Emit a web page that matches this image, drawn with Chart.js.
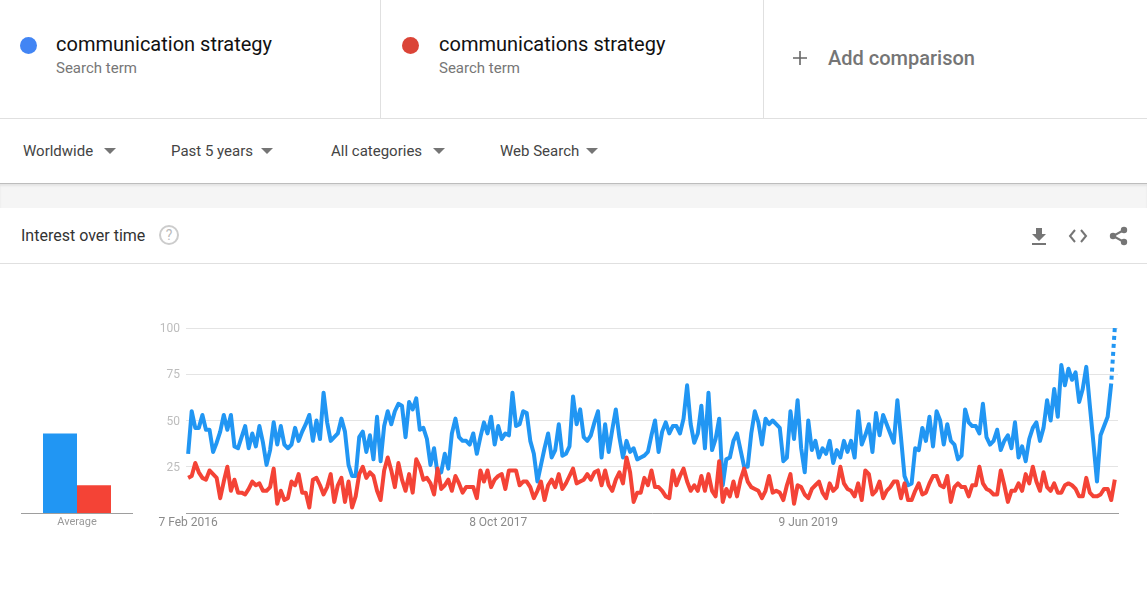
<!DOCTYPE html>
<html>
<head>
<meta charset="utf-8">
<title>Interest over time</title>
<script src="https://cdn.jsdelivr.net/npm/chart.js@4"></script>
<style>
  html, body { margin: 0; padding: 0; background: #fff; }
  body { position: relative; width: 1147px; height: 595px; overflow: hidden; font-family: Roboto, sans-serif; }
  .abs { position: absolute; white-space: nowrap; }
  .term { font-size: 20px; color: #111; line-height: 24px; top: 32px; }
  .sub { font-size: 15px; color: #777; line-height: 18px; top: 59px; }
  .dot { width: 17px; height: 17px; border-radius: 50%; top: 37px; }
  .filter { font-size: 15px; color: #444; line-height: 20px; top: 141px; }
  .arrow { width: 0; height: 0; top: 148px; border-left: 6px solid transparent; border-right: 6px solid transparent; border-top: 6px solid #757575; }
  .hline { left: 0; width: 1147px; height: 1px; background: #e0e0e0; }
  .vline { top: 0; width: 1px; height: 118px; background: #e0e0e0; }
  canvas { position: absolute; }
</style>
</head>
<body>
  <div class="abs dot" style="left:20px;background:#4285f4"></div>
  <div class="abs term" style="left:56px">communication strategy</div>
  <div class="abs sub" style="left:56px">Search term</div>
  <div class="abs vline" style="left:380px"></div>
  <div class="abs dot" style="left:402px;background:#db4437"></div>
  <div class="abs term" style="left:439px">communications strategy</div>
  <div class="abs sub" style="left:439px">Search term</div>
  <div class="abs vline" style="left:763px"></div>
  <svg class="abs" style="left:792px;top:50px" width="16" height="16"><path d="M8 1v14M1 8h14" stroke="#666" stroke-width="1.6" fill="none"/></svg>
  <div class="abs" style="left:828px;top:45px;font-size:20px;font-weight:500;color:#757575;line-height:26px">Add comparison</div>
  <div class="abs hline" style="top:118px"></div>

  <div class="abs filter" style="left:23px">Worldwide</div>
  <div class="abs arrow" style="left:104px"></div>
  <div class="abs filter" style="left:171px">Past 5 years</div>
  <div class="abs arrow" style="left:261px"></div>
  <div class="abs filter" style="left:331px">All categories</div>
  <div class="abs arrow" style="left:433px"></div>
  <div class="abs filter" style="left:500px">Web Search</div>
  <div class="abs arrow" style="left:586px"></div>

  <div class="abs" style="left:0;top:183px;width:1147px;height:25px;background:#f5f5f5;border-top:1px solid #bdbdbd;box-shadow:inset 0 2px 2px #e4e4e4;box-sizing:border-box"></div>

  <div class="abs" style="left:21px;top:226px;font-size:16px;color:#333;line-height:20px">Interest over time</div>
  <div class="abs" style="left:159px;top:225px;width:16px;height:16px;border:2px solid #ccc;border-radius:50%;font-size:14px;line-height:16px;text-align:center;color:#bbb">?</div>
  <svg class="abs" style="left:1030px;top:227px" width="18" height="19"><path d="M6 1h6v6h4l-7 7-7-7h4z M2 16h14v2H2z" fill="#757575"/></svg>
  <svg class="abs" style="left:1068px;top:229px" width="20" height="14"><path d="M7 1L2 7l5 6M13 1l5 6-5 6" stroke="#757575" stroke-width="2" fill="none"/></svg>
  <svg class="abs" style="left:1109px;top:226px" width="20" height="20"><path d="M15 4L4 10l11 6" stroke="#757575" stroke-width="2" fill="none"/><circle cx="15" cy="4" r="3.2" fill="#757575"/><circle cx="4" cy="10" r="3.2" fill="#757575"/><circle cx="15" cy="16" r="3.2" fill="#757575"/></svg>
  <div class="abs hline" style="top:263px"></div>

  <canvas id="avgChart" style="left:21px;top:310px;width:112px;height:230px"></canvas>
  <canvas id="trendChart" style="left:150px;top:310px;width:980px;height:230px"></canvas>

<script>
const termNames = ["communication strategy", "communications strategy"];
const averages = [43, 15];

const blueValues = [
  32,55,46,46,53,45,45,33,38,44,53,45,53,36,35,41,47,35,43,36,
  47,38,26,34,49,37,47,37,35,37,46,39,44,48,53,39,50,40,65,49,
  39,41,43,51,44,26,20,20,41,44,33,42,29,52,28,47,55,48,55,59,
  58,41,60,56,62,45,46,40,26,35,21,22,32,24,43,51,41,39,39,37,
  43,32,41,49,43,52,
  37,47,40,43,42,65,47,48,55,54,
  39,32,17,26,35,43,30,34,48,31,
  32,36,63,48,56,41,39,42,49,55,
  30,48,33,45,56,41,30,39,33,35,
  29,30,31,33,42,50,33,44,49,43,
  47,47,43,51,69,48,38,43,58,35,
  65,34,40,51,15,29,30,39,43,34,
  25,25,43,55,49,37,51,48,50,48,
  46,28,30,55,40,61,35,22,50,34,
  39,30,
  35,32,39,27,34,30,39,33,39,30,
  55,37,42,48,33,54,42,53,48,43,
  38,61,41,20,15,16,35,34,46,39,
  52,36,55,50,37,48,39,37,29,31,
  56,49,47,47,43,59,41,37,39,45,
  34,39,42,35,49,30,36,28,40,46,
  49,39,46,61,50,67,52,80,69,78,
  72,76,60,67,79,58,38,17,42,47,
  52,70,100
];

const redValues = [
  19,20,27,22,19,18,23,21,19,8,17,25,12,18,11,11,10,13,17,15,
  16,12,12,14,24,5,12,7,8,17,15,21,11,11,3,18,19,15,10,14,
  21,6,15,19,6,17,3,9,21,25,19,22,20,12,7,23,30,23,14,27,
  18,12,21,11,29,25,18,19,16,10,24,13,15,18,12,20,16,11,14,14,
  14,8,23,
  17,23,14,18,20,21,13,23,23,23,
  15,17,17,14,8,12,17,7,15,18,
  14,21,13,16,20,24,16,17,18,21,
  18,22,23,15,23,15,12,18,22,16,
  30,22,6,11,11,19,15,23,14,14,
  12,9,8,23,15,20,24,17,12,15,
  12,20,12,21,12,9,28,6,13,9,
  17,9,18,24,17,14,13,12,8,12,
  20,11,12,11,7,15,21,5,15,14,
  10,8,13,15,17,
  11,8,16,12,14,25,16,13,12,9,
  16,7,23,21,10,12,17,8,12,14,
  17,17,8,16,7,7,12,16,10,11,
  16,20,20,15,14,20,6,14,16,14,
  14,9,15,15,25,16,13,12,10,10,
  23,15,6,12,12,16,12,21,16,25,
  17,12,22,14,12,16,11,11,15,16,
  15,13,9,9,19,11,9,9,10,13,
  13,7,18
];

const xTickIndexes = [0, 87, 174];
const xTickLabels = ["7 Feb 2016", "8 Oct 2017", "9 Jun 2019"];
const yTickValues = [0, 25, 50, 75, 100];

const blue = "#2196f3";
const red = "#f44336";
const lastIndex = blueValues.length - 1;

Chart.defaults.font.family = "Roboto, sans-serif";
Chart.defaults.animation = false;

function toPoints(values) {
  return values.map((value, index) => ({ x: index, y: value }));
}

// last week is partial data, trends draws it dotted
function lineDataset(label, values, color) {
  const isDotted = (ctx) => ctx.p1DataIndex === lastIndex && color === blue;
  return {
    label: label,
    data: toPoints(values),
    borderColor: color,
    backgroundColor: color,
    borderWidth: 4,
    pointRadius: 0,
    tension: 0,
    borderJoinStyle: "round",
    segment: {
      borderDash: (ctx) => (isDotted(ctx) ? [4, 3.94] : undefined),
      borderDashOffset: (ctx) => (isDotted(ctx) ? 4 : undefined)
    }
  };
}

new Chart(document.getElementById("trendChart").getContext("2d"), {
  type: "line",
  data: {
    datasets: [
      lineDataset(termNames[1], redValues, red),
      lineDataset(termNames[0], blueValues, blue)
    ]
  },
  options: {
    responsive: false,
    layout: { padding: { top: 18, right: 12, left: 0, bottom: 0 } },
    plugins: { legend: { display: false }, tooltip: { enabled: false } },
    scales: {
      x: {
        type: "linear",
        min: -0.6,
        max: 260.9,
        afterBuildTicks: (scale) => {
          scale.ticks = xTickIndexes.map((value) => ({ value: value }));
        },
        afterFit: (scale) => { scale.height = 27; },
        ticks: {
          autoSkip: false,
          maxRotation: 0,
          padding: 3,
          color: "#8a8a8a",
          font: { size: 12 },
          callback: (value) => xTickLabels[xTickIndexes.indexOf(value)]
        },
        grid: { display: false, drawTicks: false, tickLength: 0 },
        border: { display: true, color: "#9e9e9e", width: 1 }
      },
      y: {
        min: 0,
        max: 100,
        afterBuildTicks: (scale) => {
          scale.ticks = yTickValues.map((value) => ({ value: value }));
        },
        afterFit: (scale) => { scale.width = 36; },
        ticks: {
          padding: 6,
          labelOffset: 1,
          color: "#bdbdbd",
          font: { size: 12 },
          callback: (value) => (value === 0 ? "" : value)
        },
        grid: { color: "#e4e4e4", drawTicks: false },
        border: { display: false }
      }
    }
  }
});

new Chart(document.getElementById("avgChart").getContext("2d"), {
  type: "bar",
  data: {
    labels: ["Average"],
    datasets: [
      { label: termNames[0], data: [averages[0]], backgroundColor: blue },
      { label: termNames[1], data: [averages[1]], backgroundColor: red }
    ]
  },
  options: {
    responsive: false,
    layout: { padding: { top: 18, left: 0, right: 0, bottom: 0 } },
    plugins: { legend: { display: false }, tooltip: { enabled: false } },
    datasets: { bar: { categoryPercentage: 0.607, barPercentage: 1 } },
    scales: {
      x: {
        afterFit: (scale) => { scale.height = 27; },
        ticks: { padding: 3, color: "#9a9a9a", font: { size: 11 } },
        grid: { display: false, drawTicks: false, tickLength: 0 },
        border: { display: true, color: "#9e9e9e", width: 1 }
      },
      y: { min: 0, max: 100, display: false }
    }
  }
});
</script>
</body>
</html>
